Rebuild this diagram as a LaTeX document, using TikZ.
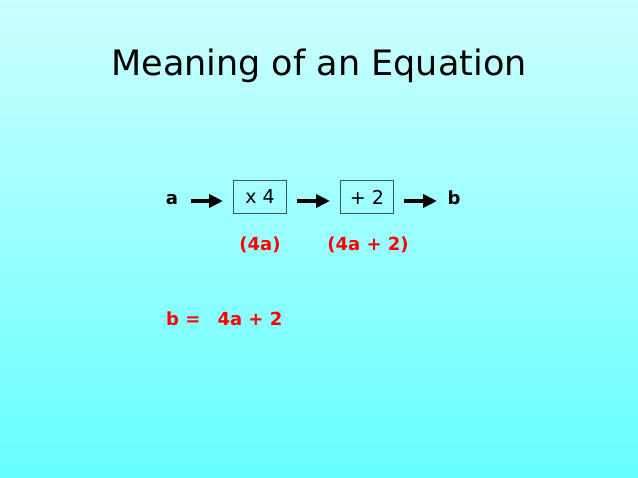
\documentclass[tikz,border=0pt]{standalone}
\usepackage{fontspec}
\setmainfont{DejaVu Sans}
\usetikzlibrary{arrows.meta}
\definecolor{bgtop}{HTML}{CCFFFF}
\definecolor{bgbot}{HTML}{66FFFF}
\definecolor{eqred}{HTML}{FF0000}
\definecolor{boxline}{HTML}{3A5A5A}
\begin{document}
\begin{tikzpicture}[x=1pt,y=-1pt,
  opbox/.style={draw=boxline,line width=1pt,minimum width=53pt,minimum height=33pt,inner sep=0pt,font=\fontsize{19}{22}\selectfont},
  varlab/.style={font=\fontsize{18}{21}\selectfont\bfseries,inner sep=0pt},
  redlab/.style={text=eqred,font=\fontsize{18}{21}\selectfont\bfseries,inner sep=0pt},
  flow/.style={-{Triangle[length=14pt,width=13pt]},line width=4.5pt}]
\shade[top color=bgtop,bottom color=bgbot] (0,0) rectangle (638,478);
\useasboundingbox (0,0) rectangle (638,478);
\node[font=\fontsize{35}{42}\selectfont,inner sep=0pt,anchor=base] (title) at (319,76) {Meaning of an Equation};
\node[varlab,anchor=base] (a) at (172,205) {a};
\node[opbox] (b1) at (260,197) {x 4};
\node[opbox] (b2) at (367,197) {+ 2};
\node[varlab,anchor=base] (b) at (454,205) {b};
\coordinate (a1s) at (191,201); \coordinate (a1e) at (223,201);
\coordinate (a2s) at (297,201); \coordinate (a2e) at (330,201);
\coordinate (a3s) at (404,201); \coordinate (a3e) at (437,201);
\draw[flow] (a1s) -- (a1e);
\draw[flow] (a2s) -- (a2e);
\draw[flow] (a3s) -- (a3e);
\node[redlab,anchor=base] (l1) at (260,251) {(4a)};
\node[redlab,anchor=base] (l2) at (368,251) {(4a + 2)};
\node[redlab,anchor=base west] (beq) at (166,326) {b =\hspace{0.95em}4a + 2};
\end{tikzpicture}
\end{document}
